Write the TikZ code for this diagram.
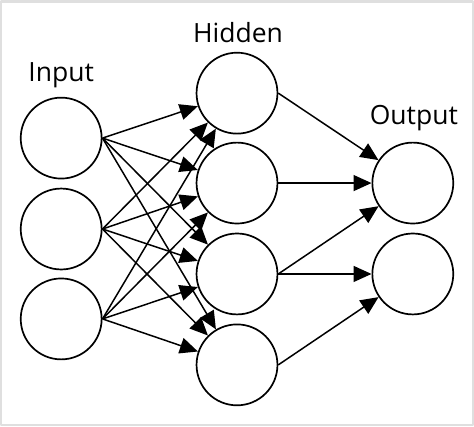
\documentclass[tikz,border=0pt]{standalone}
\usepackage{fontspec}
\setmainfont{Open Sans}
\usetikzlibrary{arrows.meta}
\tikzset{neuron/.style={draw, circle, line width=1.7pt, minimum size=81pt, inner sep=0pt},
	link/.style={->, line width=1.5pt}}
\begin{document}
\begin{tikzpicture}[x=1pt,y=-1pt,>={Triangle[length=18pt,width=16pt]}, font=\fontsize{26.5}{30}\selectfont, line join=round]
			\draw[gray!25,line width=2.5pt] (1,1) rectangle (473,425);
			\useasboundingbox (0,0) rectangle (474,426);
			\foreach \n/\y in {1/138,2/229,3/319}
			\node[neuron] (in\n) at (61,\y) {};
			\foreach \n/\y in {1/93,2/183,3/274,4/365}
			\node[neuron] (hid\n) at (237,\y) {};
			\foreach \n/\y in {1/183,2/274}
			\node[neuron] (out\n) at (413,\y) {};
			\node (inlabel) at (61,75) {Input};
			\node (hidlabel) at (238,32) {Hidden};
			\node (outlabel) at (414,117.5) {Output};
			\foreach \a in {1,2,3}
			\foreach \b in {1,...,4}
			\draw[link] (in\a.east)--(hid\b);
			\draw[link] (hid1.east)--(out1);
			\draw[link] (hid2.east)--(out1);
			\draw[link] (hid3.east)--(out1);
			\draw[link] (hid3.east)--(out2);
			\draw[link] (hid4.east)--(out2);
		\end{tikzpicture}
\end{document}
